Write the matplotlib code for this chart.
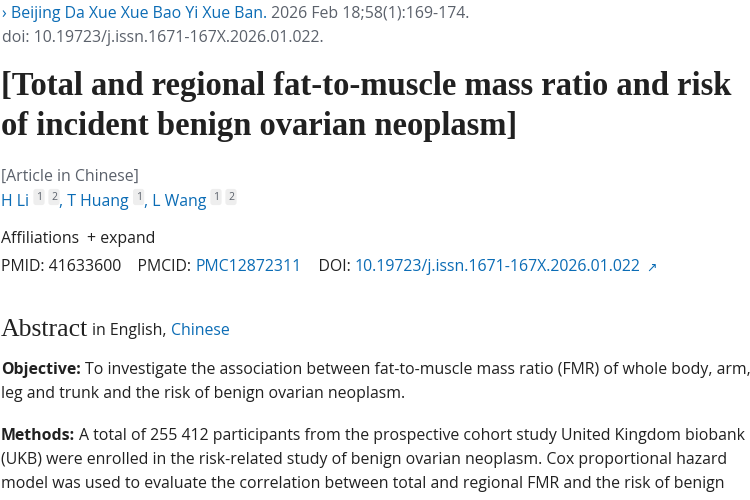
import matplotlib
matplotlib.use("Agg")
import matplotlib.pyplot as plt

BLUE = "#0b6cb5"
DARK = "#212121"
GREY = "#5b616b"
SANS = ["Open Sans", "DejaVu Sans"]
SERIF = ["Liberation Serif", "DejaVu Serif"]
FS = 11.4

# text pieces of each line
journal = [("\u203a ", BLUE), ("Beijing Da Xue Xue Bao Yi Xue Ban.", BLUE),
           (" 2026 Feb 18;58(1):169-174.", GREY)]
doi_line = "doi: 10.19723/j.issn.1671-167X.2026.01.022."
title_lines = ["[Total and regional fat-to-muscle mass ratio and risk",
               "of incident benign ovarian neoplasm]"]
authors = [("H Li", None), ("1", "sup"), ("2", "sup"), (", T Huang", None), ("1", "sup"),
           (", L Wang", None), ("1", "sup"), ("2", "sup")]
ids = [("PMID: 41633600", DARK), ("    PMCID: ", DARK), ("PMC12872311", BLUE),
       ("    DOI: ", DARK), ("10.19723/j.issn.1671-167X.2026.01.022", BLUE)]
objective = ["To investigate the association between fat-to-muscle mass ratio (FMR) of whole body, arm,",
             "leg and trunk and the risk of benign ovarian neoplasm."]
methods = ["A total of 255 412 participants from the prospective cohort study United Kingdom biobank",
           "(UKB) were enrolled in the risk-related study of benign ovarian neoplasm. Cox proportional hazard",
           "model was used to evaluate the correlation between total and regional FMR and the risk of benign"]

fig = plt.figure(figsize=(7.5, 5), dpi=100)
fig.patch.set_facecolor("white")
r = fig.canvas.get_renderer()


def put(x, y, s, color=DARK, weight="normal", size=FS, family=SANS, **kw):
    t = fig.text(x / 750, 1 - y / 500, s, color=color, fontweight=weight, fontsize=size,
                 family=family, va="center", ha="left", **kw)
    return t.get_window_extent(r).x1


x = 2
for s, c in journal:
    x = put(x, 14, s, c)
put(2, 38, doi_line, GREY)

for i, line in enumerate(title_lines):
    put(1, 87 + 40 * i, line, DARK, "bold", 23.5, SERIF)

put(1, 177, "[Article in Chinese]", GREY)
x = 1
for s, kind in authors:
    if kind == "sup":
        x = put(x + 7, 197, s, GREY, size=7.5,
                bbox=dict(boxstyle="round,pad=0.25", fc="#eeeeee", ec="none")) + 2
    else:
        x = put(x, 202, s, BLUE)

x = put(1, 239, "Affiliations", DARK)
put(x + 8, 239, "+ expand", DARK)

x = 1
for s, c in ids:
    x = put(x, 267, s, c)
put(x + 6, 268, "\u2197", BLUE, size=9, family=["DejaVu Sans"])

x = put(1, 330, "Abstract", DARK, "normal", 18.5, SERIF)
x = put(x + 4, 331, "in English, ", DARK)
put(x, 331, "Chinese", BLUE)

x = put(1, 370, "Objective:", DARK, "bold")
put(x + 4, 370, objective[0])
put(1, 394, objective[1])

x = put(1, 436, "Methods:", DARK, "bold")
put(x + 4, 436, methods[0])
for i, line in enumerate(methods[1:]):
    put(1, 460 + 24 * i, line)

fig.savefig("out.png", dpi=100)
